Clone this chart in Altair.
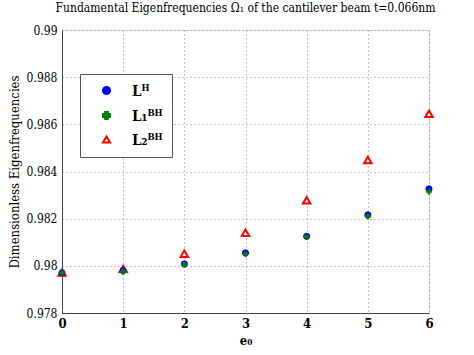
import altair as alt
import pandas as pd

e0 = [0, 1, 2, 3, 4, 5, 6]
lh = [0.97970, 0.97980, 0.98008, 0.98055, 0.98125, 0.98216, 0.98326]
l1bh = [0.97970, 0.97975, 0.98005, 0.98050, 0.98122, 0.98210, 0.98315]
l2bh = [0.97972, 0.97987, 0.98051, 0.98140, 0.98278, 0.98449, 0.98645]
series_names = ["Lᴴ", "L₁ᴮᴴ", "L₂ᴮᴴ"]

rows = []
for name, vals in zip(series_names, [lh, l1bh, l2bh]):
    for x, v in zip(e0, vals):
        rows.append({"e0": x, "val": v, "series": name})
df = pd.DataFrame(rows)

font = "DejaVu Serif Condensed, DejaVu Serif, serif"

legend = alt.Legend(
    title=None, orient="none", legendX=18, legendY=44,
    labelFont=font, labelFontSize=15, labelFontWeight="bold", labelColor="black",
    strokeColor="#555555", fillColor="white", padding=9,
    symbolSize=50, symbolStrokeWidth=2, rowPadding=8, labelOffset=18, symbolOffset=10,
)

xenc = alt.X("e0:Q", scale=alt.Scale(domain=[0, 6], nice=False),
             axis=alt.Axis(values=e0, title="e₀", format="d", ticks=False,
                           labelFont=font, labelFontSize=13, labelFontWeight="bold",
                           labelColor="black", titleFont=font, titleFontSize=13,
                           titleFontWeight="bold", titleColor="black", labelPadding=4,
                           titlePadding=4, gridDash=[1, 3], gridColor="#888888",
                           domainColor="#444444", labelFlush=False))
yenc = alt.Y("val:Q", scale=alt.Scale(domain=[0.978, 0.99], nice=False, zero=False),
             axis=alt.Axis(values=[0.978, 0.98, 0.982, 0.984, 0.986, 0.988, 0.99],
                           format="~g", title="Dimensionless Eigenfrequencies", ticks=False,
                           labelFont=font, labelFontSize=12, labelColor="black",
                           titleFont=font, titleFontSize=13, titleFontWeight="normal",
                           titleColor="black", labelPadding=5, titlePadding=5,
                           gridDash=[1, 3], gridColor="#888888", domainColor="#444444",
                           labelFlush=False))
color = alt.Color("series:N", scale=alt.Scale(domain=series_names,
                  range=["#0000ff", "#008000", "#ff0000"]), legend=legend)
fill = alt.Fill("series:N", scale=alt.Scale(domain=series_names,
                range=["#0000ff", "#008000", "#ffffff"]), legend=legend)
shape = alt.Shape("series:N", scale=alt.Scale(domain=series_names,
                  range=["circle", "cross", "triangle-up"]), legend=legend)

base = alt.Chart(df).encode(x=xenc, y=yenc, color=color, fill=fill, shape=shape)

tri = base.mark_point(filled=False, strokeWidth=2, size=55, opacity=1).transform_filter(
    alt.datum.series == series_names[2])
circ = base.mark_point(filled=False, strokeWidth=1, size=38, opacity=1).transform_filter(
    alt.datum.series == series_names[0])
plus = base.mark_point(filled=False, strokeWidth=0.5, size=28, opacity=1).transform_filter(
    alt.datum.series == series_names[1])

chart = alt.layer(tri, circ, plus).properties(
    width=367, height=283,
    title=alt.TitleParams("Fundamental Eigenfrequencies Ω₁ of the cantilever beam t=0.066nm",
                          font=font, fontSize=12, fontWeight="normal", color="black", offset=9),
    autosize=alt.AutoSizeParams(type="none"),
    padding={"left": 62, "top": 30, "right": 45, "bottom": 42},
).configure_view(stroke="#444444", strokeWidth=1).configure(background="white", font=font)

chart.save("out.html", embed_options={"renderer": "svg", "actions": False})
